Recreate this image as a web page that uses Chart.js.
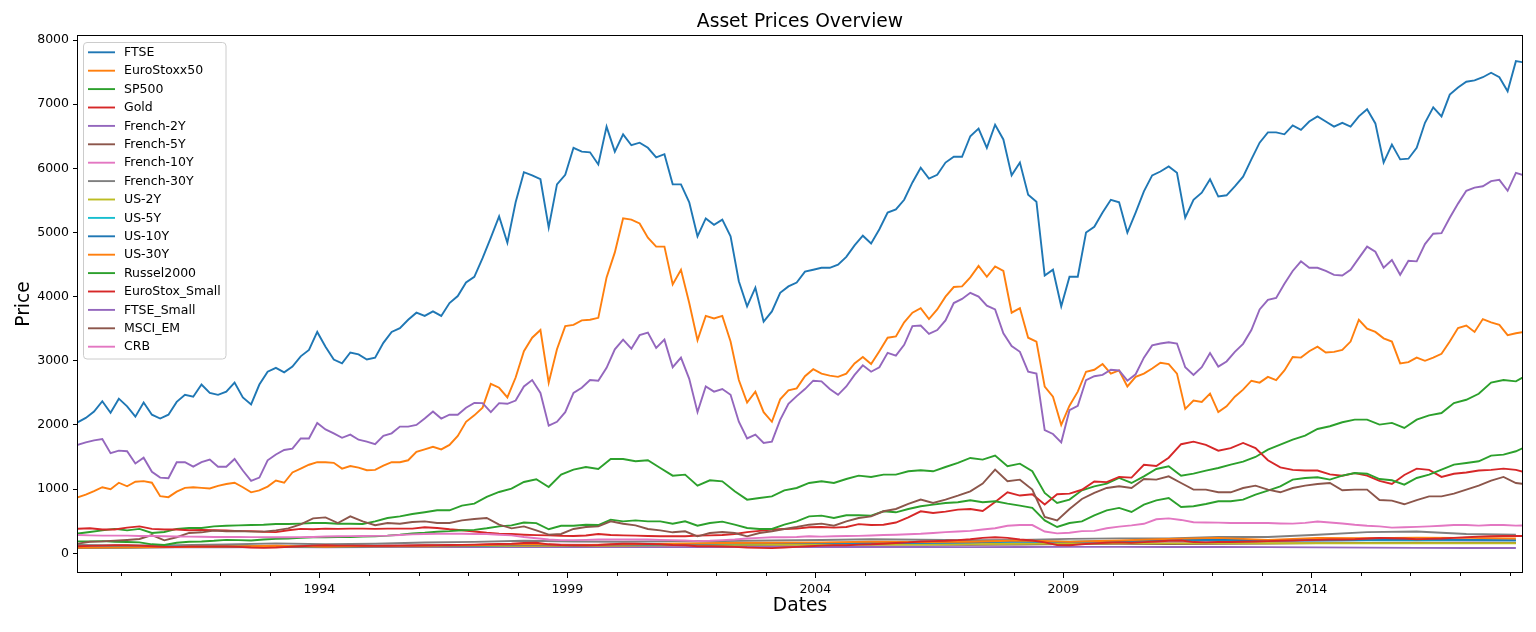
<!DOCTYPE html>
<html>
<head>
<meta charset="utf-8">
<title>Asset Prices Overview</title>
<script src="https://cdn.jsdelivr.net/npm/chart.js@4.4.1/dist/chart.umd.min.js"></script>
<style>
  html, body { margin: 0; padding: 0; background: #fff; }
  #wrap { width: 1536px; height: 632px; }
</style>
</head>
<body>
<div id="wrap"><canvas id="assetChart" width="1536" height="632"></canvas></div>
<script>
/* ===== Asset Prices Overview ===== */

// ===== Dates (fractional years) =====
const startDate = 1989.125;
const bimonthly = 1 / 6;
const quarterly = 0.25;
const yearly = 1;
const xMin = 1989.135;
const xMax = 2018.248;
const majorYears = [1994, 1999, 2004, 2009, 2014];
const minorYears = [1990, 1991, 1992, 1993, 1995, 1996, 1997, 1998, 2000, 2001, 2002, 2003,
  2005, 2006, 2007, 2008, 2010, 2011, 2012, 2013, 2015, 2016, 2017, 2018];
const priceTicks = [0, 1000, 2000, 3000, 4000, 5000, 6000, 7000, 8000];

// ===== Equity indices, every two months =====
const ftse = [
  2040, 2110, 2210, 2370, 2190, 2410, 2290, 2130, 2350, 2160, 2100, 2160,
  2360, 2470, 2440, 2630, 2500, 2470, 2520, 2660, 2430, 2320, 2630, 2830,
  2890, 2820, 2910, 3070, 3170, 3450, 3220, 3020, 2960, 3130, 3100, 3020,
  3050, 3280, 3450, 3510, 3640, 3750, 3700, 3770, 3700, 3900, 4010, 4220,
  4310, 4600, 4920, 5250, 4840, 5470, 5940, 5890, 5830, 5080, 5750, 5900,
  6320, 6260, 6250, 6060, 6650, 6260, 6530, 6360, 6400, 6320, 6170, 6220,
  5750, 5750, 5470, 4940, 5220, 5120, 5200, 4940, 4240, 3850, 4140, 3610,
  3770, 4060, 4160, 4220, 4390, 4420, 4450, 4450, 4500, 4620, 4800, 4950,
  4830, 5050, 5310, 5360, 5510, 5780, 6010, 5840, 5900, 6090, 6180, 6180,
  6500, 6620, 6320, 6680, 6450, 5890, 6090, 5590, 5480, 4330, 4420, 3850,
  4310, 4310, 5000, 5090, 5310, 5510, 5470, 5000, 5310, 5640, 5890, 5950,
  6030, 5930, 5230, 5510, 5620, 5830, 5560, 5580, 5720, 5870, 6140, 6400,
  6560, 6560, 6530, 6670, 6600, 6730, 6810, 6730, 6650, 6710, 6650, 6810,
  6920, 6700, 6090, 6370, 6140, 6150, 6320, 6710, 6950, 6810, 7150, 7260,
  7350, 7370, 7420, 7490, 7420, 7200, 7670, 7650
];
const euroStoxx50 = [
  871, 915, 970, 1030, 1000, 1100, 1045, 1115, 1125, 1100, 890, 875,
  960, 1020, 1030, 1020, 1010, 1050, 1080, 1100, 1030, 950, 980, 1040,
  1135, 1100, 1260, 1320, 1380, 1420, 1420, 1410, 1320, 1360, 1335, 1295,
  1300, 1365, 1420, 1420, 1450, 1580, 1620, 1660, 1620, 1690, 1830, 2050,
  2150, 2270, 2640, 2580, 2430, 2740, 3150, 3360, 3480, 2660, 3180, 3540,
  3560, 3630, 3640, 3670, 4300, 4690, 5220, 5200, 5140, 4920, 4780, 4780,
  4190, 4420, 3900, 3320, 3700, 3660, 3700, 3300, 2700, 2350, 2520, 2200,
  2050, 2400, 2540, 2570, 2760, 2870, 2800, 2770, 2750, 2800, 2960, 3060,
  2950, 3150, 3360, 3380, 3600, 3750, 3820, 3650, 3800, 4000, 4150, 4160,
  4300, 4480, 4310, 4470, 4400, 3750, 3820, 3360, 3300, 2600, 2440, 2000,
  2300, 2520, 2830, 2860, 2950, 2800, 2850, 2600, 2750, 2800, 2880, 2970,
  2950, 2800, 2250, 2380, 2360, 2490, 2200, 2290, 2440, 2550, 2690, 2660,
  2750, 2700, 2850, 3060, 3050, 3150, 3220, 3130, 3140, 3170, 3300, 3640,
  3500, 3450, 3350, 3300, 2960, 2980, 3050, 3000, 3050, 3110, 3300, 3510,
  3550, 3450, 3650, 3600, 3560, 3400, 3430, 3450
];
const ftseSmall = [
  1690, 1730, 1760, 1780, 1560, 1600, 1590, 1400, 1490, 1270, 1180, 1170,
  1420, 1420, 1350, 1420, 1460, 1350, 1350, 1470, 1290, 1130, 1180, 1450,
  1540, 1610, 1630, 1790, 1790, 2030, 1930, 1870, 1800, 1850, 1770, 1740,
  1700, 1830, 1870, 1975, 1975, 2000, 2100, 2210, 2100, 2160, 2160, 2270,
  2345, 2340, 2200, 2340, 2330, 2380, 2600, 2700, 2500, 1990, 2050, 2200,
  2500, 2580, 2700, 2690, 2890, 3180, 3330, 3190, 3400, 3440, 3200, 3330,
  2900, 3050, 2720, 2200, 2600, 2520, 2560, 2470, 2050, 1790, 1850, 1720,
  1740, 2080, 2330, 2450, 2560, 2690, 2680, 2560, 2470, 2600, 2780, 2930,
  2830, 2900, 3125, 3080, 3250, 3540, 3550, 3420, 3480, 3630, 3900, 3965,
  4060, 4000, 3860, 3800, 3430, 3230, 3140, 2830, 2800, 1920, 1860, 1730,
  2230, 2300, 2700, 2760, 2780, 2860, 2850, 2690, 2790, 3050, 3240, 3270,
  3290, 3270, 2900, 2780, 2900, 3120, 2910, 2990, 3140, 3265, 3480, 3800,
  3950, 3980, 4200, 4400, 4550, 4450, 4450, 4400, 4340, 4330, 4420, 4600,
  4780, 4700, 4450, 4570, 4340, 4560, 4550, 4820, 4980, 4990, 5230, 5450,
  5650, 5700, 5720, 5800, 5820, 5650, 5930, 5890
];

// ===== Other markets, quarterly =====
const sp500 = [
  307, 332, 358, 380, 358, 380, 317, 332, 380, 395, 395, 420,
  430, 435, 441, 446, 456, 456, 462, 472, 472, 461, 461, 456,
  498, 550, 576, 612, 639, 670, 670, 743, 774, 878, 956, 1008,
  1112, 1154, 1034, 1226, 1304, 1345, 1314, 1470, 1470, 1434, 1450, 1330,
  1210, 1226, 1054, 1138, 1122, 966, 836, 862, 888, 982, 1018, 1096,
  1122, 1096, 1158, 1210, 1190, 1226, 1226, 1278, 1294, 1278, 1345, 1408,
  1486, 1460, 1522, 1356, 1397, 1278, 940, 785, 837, 982, 1044, 1086,
  1174, 1096, 1200, 1314, 1356, 1210, 1241, 1288, 1330, 1382, 1429, 1501,
  1616, 1694, 1772, 1835, 1938, 1980, 2042, 2084, 2084, 2006, 2032, 1954,
  2084, 2150, 2186, 2341, 2393, 2487, 2660, 2700, 2680, 2790
];
const russel2000 = [
  186, 186, 190, 180, 175, 170, 140, 130, 165, 180, 185, 195,
  210, 205, 200, 215, 225, 230, 240, 250, 250, 255, 255, 260,
  265, 275, 290, 310, 320, 335, 345, 360, 365, 390, 420, 435,
  480, 470, 375, 430, 430, 446, 441, 524, 498, 513, 498, 498,
  462, 498, 430, 472, 493, 446, 394, 379, 379, 446, 498, 576,
  587, 550, 592, 592, 587, 655, 639, 691, 733, 759, 785, 795,
  826, 795, 811, 774, 743, 707, 513, 410, 472, 498, 592, 670,
  707, 644, 759, 826, 862, 722, 733, 769, 811, 811, 837, 914,
  976, 1044, 1148, 1174, 1185, 1148, 1210, 1252, 1241, 1158, 1138, 1070,
  1174, 1226, 1304, 1382, 1408, 1434, 1522, 1538, 1590, 1678
];
const gold = [
  383, 390, 370, 370, 400, 420, 380, 370, 370, 360, 365, 360,
  355, 345, 345, 335, 330, 360, 380, 375, 385, 380, 385, 385,
  380, 385, 385, 385, 405, 395, 375, 360, 340, 320, 305, 300,
  290, 283, 280, 272, 270, 278, 300, 285, 280, 275, 270, 265,
  265, 265, 275, 280, 285, 300, 330, 350, 370, 378, 384, 405,
  410, 400, 410, 455, 440, 445, 480, 560, 655, 628, 650, 680,
  690, 660, 800, 950, 900, 920, 760, 920, 930, 990, 1120, 1110,
  1190, 1180, 1380, 1360, 1490, 1700, 1740, 1690, 1600, 1640, 1720, 1640,
  1450, 1340, 1300, 1290, 1290, 1230, 1210, 1250, 1210, 1130, 1080, 1220,
  1320, 1300, 1190, 1240, 1260, 1290, 1300, 1320, 1300, 1250
];
const euroStoxSmall = [
  110, 115, 120, 125, 125, 120, 110, 100, 100, 105, 105, 105,
  105, 100, 90, 85, 90, 100, 110, 120, 125, 120, 120, 118,
  115, 118, 120, 122, 125, 128, 130, 132, 135, 140, 145, 150,
  160, 165, 140, 130, 125, 125, 130, 140, 150, 150, 145, 140,
  130, 125, 110, 110, 105, 100, 90, 85, 80, 90, 100, 110,
  120, 125, 125, 135, 140, 150, 160, 170, 185, 190, 195, 205,
  220, 240, 250, 240, 215, 200, 170, 130, 125, 140, 155, 165,
  170, 165, 175, 185, 195, 200, 175, 170, 175, 175, 180, 185,
  190, 195, 200, 205, 210, 215, 215, 220, 230, 240, 235, 230,
  220, 225, 230, 240, 250, 260, 265, 270, 270, 268
];
const msciEm = [
  150, 180, 186, 197, 208, 223, 285, 202, 250, 317, 327, 353,
  343, 348, 338, 338, 358, 389, 451, 545, 560, 472, 576, 498,
  437, 472, 461, 487, 498, 472, 472, 513, 535, 550, 446, 389,
  420, 358, 291, 301, 379, 410, 420, 498, 461, 436, 379, 358,
  327, 343, 265, 317, 332, 317, 265, 317, 343, 379, 410, 446,
  462, 430, 498, 550, 576, 655, 691, 769, 837, 785, 837, 899,
  966, 1086, 1304, 1122, 1148, 993, 566, 513, 691, 847, 940, 1018,
  1044, 1018, 1158, 1148, 1200, 1096, 993, 993, 951, 951, 1018, 1054,
  993, 951, 1018, 1054, 1080, 1096, 982, 993, 993, 830, 821, 764,
  830, 888, 888, 930, 993, 1054, 1132, 1190, 1096, 1070
];
const crb = [
  285, 280, 275, 275, 275, 270, 270, 265, 262, 260, 258, 255,
  255, 255, 252, 252, 250, 250, 252, 255, 262, 265, 268, 270,
  272, 275, 285, 295, 300, 305, 305, 305, 300, 300, 290, 280,
  255, 235, 215, 205, 205, 210, 215, 215, 215, 215, 215, 210,
  205, 200, 190, 195, 205, 215, 230, 240, 250, 250, 255, 265,
  260, 265, 270, 272, 278, 285, 290, 298, 305, 317, 330, 340,
  350, 370, 390, 430, 440, 440, 340, 310, 320, 345, 350, 390,
  415, 435, 460, 530, 545, 520, 485, 480, 478, 472, 472, 472,
  472, 465, 462, 475, 495, 480, 465, 445, 430, 420, 400, 405,
  412, 420, 430, 440, 440, 432, 440, 440, 432, 435
];

// ===== Bond indices, yearly =====
const french2y = [95, 92, 93, 94, 96, 95, 96, 97, 97, 98, 97, 96, 97, 98, 99,
  99, 99, 98, 97, 98, 100, 100, 99, 98, 96, 92, 88, 85, 83, 82];
const french5y = [100, 98, 100, 104, 110, 106, 110, 118, 120, 125, 122, 120, 125, 128, 132,
  135, 138, 136, 134, 138, 145, 148, 146, 150, 152, 158, 162, 165, 162, 160];
const french10y = [105, 100, 104, 110, 120, 112, 118, 128, 132, 140, 135, 132, 138, 142, 148,
  152, 158, 155, 150, 155, 165, 170, 168, 178, 180, 195, 205, 210, 200, 198];
const french30y = [130, 122, 128, 138, 155, 140, 150, 168, 178, 195, 185, 180, 188, 192, 200,
  208, 220, 212, 205, 208, 225, 232, 230, 255, 255, 290, 330, 340, 300, 290];
const us2y = [92, 95, 100, 104, 106, 104, 108, 110, 113, 117, 119, 122, 128, 133, 135,
  135, 136, 138, 143, 150, 152, 154, 155, 155, 156, 156, 157, 157, 157, 156];
const us5y = [90, 94, 102, 107, 113, 106, 115, 117, 122, 130, 128, 134, 144, 155, 158,
  160, 160, 162, 170, 182, 180, 190, 198, 202, 198, 200, 202, 204, 202, 200];
const us10y = [85, 90, 98, 104, 112, 102, 112, 114, 120, 132, 125, 132, 142, 155, 158,
  162, 165, 163, 170, 186, 178, 190, 205, 215, 200, 210, 212, 215, 210, 205];
const us30y = [85, 90, 98, 106, 118, 100, 115, 117, 125, 142, 128, 138, 148, 160, 165,
  170, 180, 175, 180, 200, 180, 200, 225, 240, 210, 240, 235, 245, 240, 230];

// ===== Colours (matplotlib tab10 cycle) =====
const tab10 = ['#1f77b4', '#ff7f0e', '#2ca02c', '#d62728', '#9467bd',
  '#8c564b', '#e377c2', '#7f7f7f', '#bcbd22', '#17becf'];

const seriesList = [
  { label: 'FTSE', values: ftse, step: bimonthly },
  { label: 'EuroStoxx50', values: euroStoxx50, step: bimonthly },
  { label: 'SP500', values: sp500, step: quarterly },
  { label: 'Gold', values: gold, step: quarterly },
  { label: 'French-2Y', values: french2y, step: yearly },
  { label: 'French-5Y', values: french5y, step: yearly },
  { label: 'French-10Y', values: french10y, step: yearly },
  { label: 'French-30Y', values: french30y, step: yearly },
  { label: 'US-2Y', values: us2y, step: yearly },
  { label: 'US-5Y', values: us5y, step: yearly },
  { label: 'US-10Y', values: us10y, step: yearly },
  { label: 'US-30Y', values: us30y, step: yearly },
  { label: 'Russel2000', values: russel2000, step: quarterly },
  { label: 'EuroStox_Small', values: euroStoxSmall, step: quarterly },
  { label: 'FTSE_Small', values: ftseSmall, step: bimonthly },
  { label: 'MSCI_EM', values: msciEm, step: quarterly },
  { label: 'CRB', values: crb, step: quarterly },
];

const FONT = '"DejaVu Sans", "Liberation Sans", sans-serif';

// ===== Frame, minor ticks, titles and legend =====
const decorations = {
  id: 'decorations',
  afterDraw(chart) {
    const { ctx, chartArea: a, scales } = chart;
    ctx.save();

    // axes box
    ctx.strokeStyle = '#000';
    ctx.lineWidth = 1;
    ctx.strokeRect(Math.round(a.left) - 0.5, Math.round(a.top) + 0.5,
      Math.round(a.right - a.left) + 1, Math.round(a.bottom - a.top) - 1);

    // yearly minor ticks
    ctx.beginPath();
    minorYears.forEach(yr => {
      const px = Math.round(scales.x.getPixelForValue(yr)) + 0.5;
      ctx.moveTo(px, a.bottom);
      ctx.lineTo(px, a.bottom + 3);
    });
    ctx.stroke();

    // titles
    ctx.fillStyle = '#000';
    ctx.textAlign = 'center';
    ctx.textBaseline = 'middle';
    ctx.font = '18.7px ' + FONT;
    ctx.fillText('Asset Prices Overview', (a.left + a.right) / 2, 22);
    ctx.fillText('Dates', (a.left + a.right) / 2, 606);
    ctx.save();
    ctx.translate(24, (a.top + a.bottom) / 2);
    ctx.rotate(-Math.PI / 2);
    ctx.fillText('Price', 0, 0);
    ctx.restore();

    // legend
    const bx = 83.5, by = 42.5, bw = 142.5, bh = 316.5, r = 3.5;
    ctx.beginPath();
    ctx.roundRect(bx, by, bw, bh, r);
    ctx.fillStyle = 'rgba(255,255,255,0.8)';
    ctx.fill();
    ctx.strokeStyle = '#cccccc';
    ctx.stroke();
    ctx.font = '12.5px ' + FONT;
    ctx.textAlign = 'left';
    chart.data.datasets.forEach((ds, i) => {
      const ly = 52.3 + i * 18.4;
      ctx.strokeStyle = ds.borderColor;
      ctx.lineWidth = 1.9;
      ctx.beginPath();
      ctx.moveTo(88, ly);
      ctx.lineTo(115, ly);
      ctx.stroke();
      ctx.fillStyle = '#000';
      ctx.fillText(ds.label, 124, ly + 0.5);
    });
    ctx.restore();
  }
};

// ===== Chart =====
function initAssetChart() {
  const ctx = document.getElementById('assetChart').getContext('2d');
  new Chart(ctx, {
    type: 'line',
    data: {
      datasets: seriesList.map((s, i) => ({
        label: s.label,
        data: s.values.map((v, k) => ({ x: startDate + k * s.step, y: v })),
        borderColor: tab10[i % 10],
        backgroundColor: tab10[i % 10],
        borderWidth: 1.9,
        pointRadius: 0,
        tension: 0,
        fill: false,
        order: seriesList.length - i,
      }))
    },
    options: {
      responsive: false,
      animation: false,
      events: [],
      layout: { padding: { top: 35, right: 14, left: 0, bottom: 0 } },
      plugins: {
        legend: { display: false },
        tooltip: { enabled: false },
        title: { display: false }
      },
      scales: {
        x: {
          type: 'linear',
          min: xMin,
          max: xMax,
          afterFit: s => { s.height = 59; },
          afterBuildTicks: s => { s.ticks = majorYears.map(v => ({ value: v })); },
          ticks: {
            callback: v => String(v),
            color: '#000',
            font: { family: FONT, size: 12.5 },
            padding: 4,
            maxRotation: 0,
            autoSkip: false
          },
          grid: { drawOnChartArea: false, drawTicks: true, tickLength: 5, tickColor: '#000', tickWidth: 1 },
          border: { display: false }
        },
        y: {
          min: -307,
          max: 8078,
          afterFit: s => { s.width = 78; },
          afterBuildTicks: s => { s.ticks = priceTicks.map(v => ({ value: v })); },
          ticks: {
            callback: v => String(v),
            color: '#000',
            font: { family: FONT, size: 12.5 },
            padding: 4
          },
          grid: { drawOnChartArea: false, drawTicks: true, tickLength: 5, tickColor: '#000', tickWidth: 1 },
          border: { display: false }
        }
      }
    },
    plugins: [decorations]
  });
}

document.addEventListener('DOMContentLoaded', initAssetChart);
</script>
</body>
</html>
